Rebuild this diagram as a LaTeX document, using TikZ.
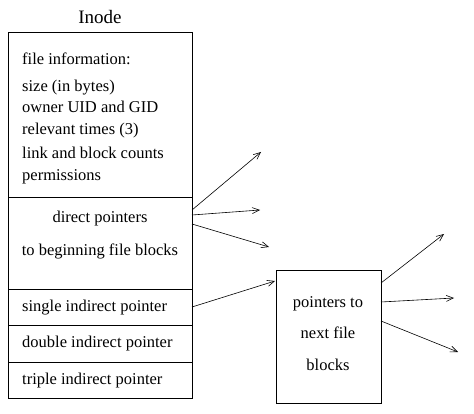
\documentclass[tikz,border=0pt]{standalone}
\usepackage{fontspec}
\setmainfont{Liberation Serif}
\usetikzlibrary{arrows.meta}
\begin{document}
\begin{tikzpicture}[x=1pt,y=-1pt,
  part/.style={draw, line width=0.7pt, anchor=north west, inner sep=0pt, minimum width=184pt},
  txt/.style={font=\fontsize{16.5}{18}\selectfont, inner sep=0pt},
  ltxt/.style={txt, anchor=base west},
  ctxt/.style={txt, anchor=base},
  ptr/.style={line width=0.6pt, -{Straight Barb[length=7pt,width=6pt]}}]
\useasboundingbox (0,0) rectangle (474,414);
% Inode box
\node[ctxt, font=\fontsize{19}{21}\selectfont] (title) at (100,24) {Inode};
\node[part, minimum height=165pt] (info) at (8,32) {};
\node[part, minimum height=92pt] (direct) at (8,197) {};
\node[part, minimum height=36pt] (single) at (8,289) {};
\node[part, minimum height=37pt] (double) at (8,325) {};
\node[part, minimum height=36pt] (triple) at (8,362) {};
% info texts
\node[ltxt] (t1) at (22,65) {file information:};
\node[ltxt] (t2) at (22,92) {size (in bytes)};
\node[ltxt] (t3) at (22,113) {owner UID and GID};
\node[ltxt] (t4) at (22,135) {relevant times (3)};
\node[ltxt] (t5) at (22,159) {link and block counts};
\node[ltxt] (t6) at (22,181) {permissions};
\node[ctxt] (t7) at (100,223) {direct pointers};
\node[ctxt] (t8) at (100,255) {to beginning file blocks};
\node[ltxt] (t9) at (22,311) {single indirect pointer};
\node[ltxt] (t10) at (22,347) {double indirect pointer};
\node[ltxt] (t11) at (22,384) {triple indirect pointer};
% second box
\node[draw, line width=0.7pt, anchor=north west, inner sep=0pt, minimum width=105pt, minimum height=133pt] (blk) at (276,270) {};
\node[ctxt] (b1) at (328,307) {pointers to};
\node[ctxt] (b2) at (328,338) {next file};
\node[ctxt] (b3) at (328,370) {blocks};
% connector coordinates
\coordinate (d1) at (192,210);
\coordinate (d2) at (192,215);
\coordinate (d3) at (192,224);
\coordinate (e1) at (261,152);
\coordinate (e2) at (260,210);
\coordinate (e3) at (269,247);
\coordinate (s1) at (192,307);
\coordinate (s2) at (275,281);
\coordinate (k1) at (381,283);
\coordinate (k2) at (381,302);
\coordinate (k3) at (381,321);
\coordinate (f1) at (444,234);
\coordinate (f2) at (454,298);
\coordinate (f3) at (458,352);
\draw[ptr] (d1) -- (e1);
\draw[ptr] (d2) -- (e2);
\draw[ptr] (d3) -- (e3);
\draw[ptr] (s1) -- (s2);
\draw[ptr] (k1) -- (f1);
\draw[ptr] (k2) -- (f2);
\draw[ptr] (k3) -- (f3);
\end{tikzpicture}
\end{document}
